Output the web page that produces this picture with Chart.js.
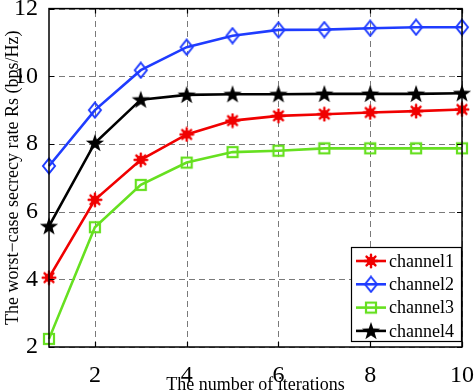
<!DOCTYPE html>
<html><head><meta charset="utf-8">
<script src="https://cdn.jsdelivr.net/npm/chart.js@4"></script>
<style>html,body{margin:0;padding:0;background:#fff}</style>
</head><body>
<canvas id="c" width="474" height="391"></canvas>
<script>
const iterations=[1,2,3,4,5,6,7,8,9,10];
const channel1=[4.05,6.35,7.53,8.28,8.69,8.83,8.88,8.93,8.97,9.02];
const channel2=[7.35,9.0,10.18,10.86,11.2,11.37,11.38,11.42,11.45,11.45];
const channel3=[2.24,5.54,6.79,7.45,7.76,7.80,7.87,7.87,7.87,7.87];
const channel4=[5.57,8.03,9.31,9.45,9.47,9.47,9.48,9.48,9.48,9.50];
const seriesNames=['channel1','channel2','channel3','channel4'];
const xTicks=[2,4,6,8,10];
const yTicks=[2,4,6,8,10,12];
const xTitle='The number of iterations';
const yTitle='The worst\u2212case secrecy rate Rs (bps/Hz)';

const RED='#f00000', BLUE='#1f3cff', GREEN='#66e020', BLACK='#000000';
const FONT='"Liberation Serif","Times New Roman",serif';

function mk(w,h,fn){const c=document.createElement('canvas');c.width=w;c.height=h;const g=c.getContext('2d');fn(g,w,h);return c;}
const redMark=mk(16,16,(g)=>{g.fillStyle=RED;g.strokeStyle=RED;g.beginPath();g.arc(8,8,4.2,0,Math.PI*2);g.fill();g.lineWidth=2.4;g.lineCap='round';
  for(let i=0;i<4;i++){const a=i*Math.PI/4;g.beginPath();g.moveTo(8-6.3*Math.cos(a),8-6.3*Math.sin(a));g.lineTo(8+6.3*Math.cos(a),8+6.3*Math.sin(a));g.stroke();}});
const blueMark=mk(16,18,(g)=>{g.strokeStyle=BLUE;g.lineWidth=2;g.beginPath();g.moveTo(8,1.5);g.lineTo(14,9);g.lineTo(8,16.5);g.lineTo(2,9);g.closePath();g.stroke();});
const greenMark=mk(14,14,(g)=>{g.strokeStyle=GREEN;g.lineWidth=2.2;g.strokeRect(2,2,10,10);});
const blackMark=mk(20,20,(g)=>{g.fillStyle=BLACK;g.beginPath();for(let i=0;i<10;i++){const r=i%2?3.8:9.6;const a=-Math.PI/2+i*Math.PI/5;const x=10+r*Math.cos(a),y=10.6+r*Math.sin(a);i?g.lineTo(x,y):g.moveTo(x,y);}g.closePath();g.fill();});

const seriesValues=[channel1,channel2,channel3,channel4];
const colors=[RED,BLUE,GREEN,BLACK];
const marks=[redMark,blueMark,greenMark,blackMark];

const datasets=seriesNames.map((n,i)=>({label:n,data:iterations.map((x,j)=>({x:x,y:seriesValues[i][j]})),
  borderColor:colors[i],backgroundColor:'rgba(0,0,0,0)',borderWidth:2.6,pointStyle:marks[i],pointRadius:6,tension:0,clip:false}));

const gridPlugin={id:'dashgrid',beforeDatasetsDraw(chart){
  const {ctx,chartArea:a,scales:{x,y}}=chart;ctx.save();
  ctx.strokeStyle='#7a7a7a';ctx.lineWidth=1;ctx.setLineDash([6,4]);ctx.beginPath();
  xTicks.forEach(v=>{const p=Math.round(x.getPixelForValue(v))+0.5;ctx.moveTo(p,a.bottom);ctx.lineTo(p,a.top);});
  yTicks.forEach(v=>{const p=Math.round(y.getPixelForValue(v))+0.5;ctx.moveTo(a.left,p);ctx.lineTo(a.right,p);});
  ctx.stroke();ctx.restore();}};

const frame={id:'frame',afterDraw(chart){
  const {ctx,chartArea:a,scales:{x,y}}=chart;ctx.save();
  ctx.strokeStyle='#000';ctx.lineWidth=1.2;
  ctx.beginPath();
  xTicks.forEach(v=>{const p=Math.round(x.getPixelForValue(v))+0.5;ctx.moveTo(p,a.bottom);ctx.lineTo(p,a.bottom-5);ctx.moveTo(p,a.top);ctx.lineTo(p,a.top+5);});
  yTicks.forEach(v=>{const p=Math.round(y.getPixelForValue(v))+0.5;ctx.moveTo(a.left,p);ctx.lineTo(a.left+5,p);ctx.moveTo(a.right,p);ctx.lineTo(a.right-5,p);});
  ctx.stroke();
  ctx.lineWidth=1.5;ctx.strokeRect(a.left,a.top,a.right-a.left,a.bottom-a.top);
  // legend
  const bw=110,bh=94,bx=a.right-bw-1,by=a.bottom-bh-6;
  ctx.fillStyle='#fff';ctx.fillRect(bx,by,bw,bh);ctx.lineWidth=1.2;ctx.strokeStyle='#000';ctx.strokeRect(bx+0.5,by+0.5,bw,bh);
  ctx.font='18px '+FONT;ctx.textBaseline='middle';ctx.textAlign='left';
  chart.data.datasets.forEach((d,i)=>{const cy=by+14+i*23.3;
    ctx.strokeStyle=d.borderColor;ctx.lineWidth=2.6;ctx.beginPath();ctx.moveTo(bx+5,cy);ctx.lineTo(bx+35,cy);ctx.stroke();
    const m=d.pointStyle;ctx.drawImage(m,bx+20-m.width/2,cy-m.height/2);
    ctx.fillStyle='#000';ctx.fillText(d.label,bx+38,cy+1);});
  ctx.restore();}};

new Chart(document.getElementById('c'),{type:'line',data:{datasets},plugins:[gridPlugin,frame],
  options:{responsive:false,animation:false,
    layout:{padding:{left:0,right:12,top:7,bottom:0}},
    plugins:{legend:{display:false},tooltip:{enabled:false}},
    scales:{
      x:{type:'linear',min:1,max:10,
        afterBuildTicks:s=>{s.ticks=xTicks.map(v=>({value:v}));},
        afterFit:s=>{s.height=44;s.paddingLeft=0;s.paddingRight=0;},
        ticks:{color:'#000',font:{family:FONT,size:24},padding:6,maxRotation:0},
        grid:{display:false},
        border:{display:false},
        title:{display:true,text:xTitle,color:'#000',font:{family:FONT,size:18,lineHeight:0.667},padding:0}},
      y:{type:'linear',min:2,max:12,
        afterBuildTicks:s=>{s.ticks=yTicks.map(v=>({value:v}));},
        afterFit:s=>{s.width=49;s.paddingTop=0;s.paddingBottom=0;},
        ticks:{color:'#000',font:{family:FONT,size:24},padding:3},
        grid:{display:false},
        border:{display:false},
        title:{display:true,text:yTitle,color:'#000',font:{family:FONT,size:18,lineHeight:1.2},padding:{top:2,bottom:0}}}
    }}});
</script>
</body></html>
